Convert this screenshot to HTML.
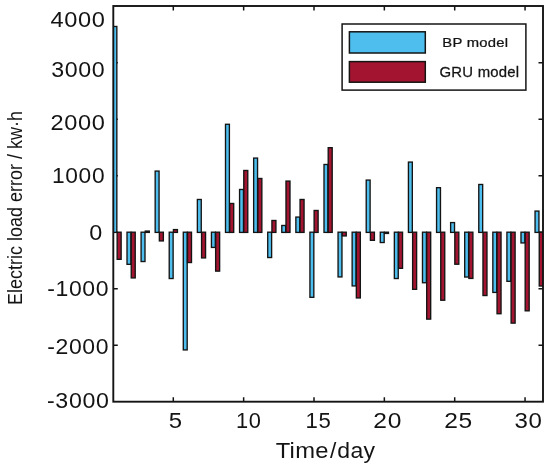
<!DOCTYPE html>
<html><head><meta charset="utf-8"><title>Electric load error</title>
<style>
html,body{margin:0;padding:0;background:#fff;}
svg{display:block;}
text{font-family:"Liberation Sans",Arial,sans-serif;fill:#141414;}
</style></head><body>
<svg width="550" height="466" viewBox="0 0 550 466">
<rect width="550" height="466" fill="#fff"/>
<defs><clipPath id="ax"><rect x="113.3" y="6.0" width="429.7" height="395.7"/></clipPath></defs>
<path d="M173.30 401.7v-4.5M173.30 6.0v4.5 M243.65 401.7v-4.5M243.65 6.0v4.5 M314.00 401.7v-4.5M314.00 6.0v4.5 M384.35 401.7v-4.5M384.35 6.0v4.5 M454.70 401.7v-4.5M454.70 6.0v4.5 M525.05 401.7v-4.5M525.05 6.0v4.5 M113.3 345.30h4.5M543.0 345.30h-4.5 M113.3 288.80h4.5M543.0 288.80h-4.5 M113.3 232.30h4.5M543.0 232.30h-4.5 M113.3 175.80h4.5M543.0 175.80h-4.5 M113.3 119.30h4.5M543.0 119.30h-4.5 M113.3 62.80h4.5M543.0 62.80h-4.5" stroke="#141414" stroke-width="1.5" fill="none"/>
<g clip-path="url(#ax)" stroke="#141414" stroke-width="1.35">
<g fill="#4DBEEE">
<rect x="112.94" y="26.47" width="3.90" height="205.93"/>
<rect x="127.01" y="232.20" width="3.90" height="32.12"/>
<rect x="141.09" y="232.20" width="3.90" height="29.33"/>
<rect x="155.16" y="171.08" width="3.90" height="61.32"/>
<rect x="169.22" y="232.20" width="3.90" height="46.33"/>
<rect x="183.29" y="232.20" width="3.90" height="117.72"/>
<rect x="197.36" y="199.48" width="3.90" height="32.92"/>
<rect x="211.44" y="232.20" width="3.90" height="15.22"/>
<rect x="225.50" y="124.28" width="3.90" height="108.12"/>
<rect x="239.57" y="189.48" width="3.90" height="42.92"/>
<rect x="253.65" y="158.08" width="3.90" height="74.32"/>
<rect x="267.72" y="232.20" width="3.90" height="25.33"/>
<rect x="281.79" y="225.48" width="3.90" height="6.92"/>
<rect x="295.86" y="217.08" width="3.90" height="15.32"/>
<rect x="309.93" y="232.20" width="3.90" height="65.12"/>
<rect x="324.00" y="164.48" width="3.90" height="67.92"/>
<rect x="338.06" y="232.20" width="3.90" height="44.72"/>
<rect x="352.14" y="232.20" width="3.90" height="53.72"/>
<rect x="366.21" y="180.08" width="3.90" height="52.32"/>
<rect x="380.28" y="232.20" width="3.90" height="10.32"/>
<rect x="394.35" y="232.20" width="3.90" height="46.33"/>
<rect x="408.42" y="162.08" width="3.90" height="70.32"/>
<rect x="422.49" y="232.20" width="3.90" height="50.53"/>
<rect x="436.56" y="187.68" width="3.90" height="44.72"/>
<rect x="450.62" y="222.58" width="3.90" height="9.82"/>
<rect x="464.70" y="232.20" width="3.90" height="44.83"/>
<rect x="478.77" y="184.48" width="3.90" height="47.92"/>
<rect x="492.84" y="232.20" width="3.90" height="60.22"/>
<rect x="506.91" y="232.20" width="3.90" height="49.12"/>
<rect x="520.98" y="232.20" width="3.90" height="10.72"/>
<rect x="535.04" y="211.08" width="3.90" height="21.32"/>
</g>
<g fill="#A2142F">
<rect x="117.14" y="232.20" width="4.00" height="27.12"/>
<rect x="131.22" y="232.20" width="4.00" height="45.72"/>
<rect x="145.29" y="231.08" width="4.00" height="1.32"/>
<rect x="159.36" y="232.20" width="4.00" height="8.72"/>
<rect x="173.43" y="229.58" width="4.00" height="2.82"/>
<rect x="187.50" y="232.20" width="4.00" height="30.33"/>
<rect x="201.56" y="232.20" width="4.00" height="25.72"/>
<rect x="215.64" y="232.20" width="4.00" height="38.92"/>
<rect x="229.71" y="203.48" width="4.00" height="28.92"/>
<rect x="243.78" y="170.48" width="4.00" height="61.92"/>
<rect x="257.85" y="178.48" width="4.00" height="53.92"/>
<rect x="271.92" y="220.48" width="4.00" height="11.92"/>
<rect x="285.99" y="181.08" width="4.00" height="51.32"/>
<rect x="300.06" y="199.48" width="4.00" height="32.92"/>
<rect x="314.12" y="210.48" width="4.00" height="21.92"/>
<rect x="328.20" y="147.68" width="4.00" height="84.72"/>
<rect x="342.26" y="232.20" width="4.00" height="3.72"/>
<rect x="356.34" y="232.20" width="4.00" height="65.72"/>
<rect x="370.41" y="232.20" width="4.00" height="8.12"/>
<rect x="384.48" y="232.20" width="4.00" height="1.22"/>
<rect x="398.55" y="232.20" width="4.00" height="36.12"/>
<rect x="412.62" y="232.20" width="4.00" height="57.12"/>
<rect x="426.69" y="232.20" width="4.00" height="86.92"/>
<rect x="440.75" y="232.20" width="4.00" height="68.03"/>
<rect x="454.82" y="232.20" width="4.00" height="32.03"/>
<rect x="468.90" y="232.20" width="4.00" height="46.22"/>
<rect x="482.97" y="232.20" width="4.00" height="63.33"/>
<rect x="497.04" y="232.20" width="4.00" height="81.53"/>
<rect x="511.11" y="232.20" width="4.00" height="90.92"/>
<rect x="525.17" y="232.20" width="4.00" height="78.62"/>
<rect x="539.24" y="232.20" width="4.00" height="53.83"/>
</g>
</g>
<rect x="113.3" y="6.0" width="429.7" height="395.7" fill="none" stroke="#141414" stroke-width="1.9"/>
<rect x="342.1" y="24.0" width="183.8" height="66.1" fill="#fff" stroke="#141414" stroke-width="1.5"/>
<rect x="349.4" y="31.8" width="75.9" height="21.2" fill="#4DBEEE" stroke="#141414" stroke-width="1.5"/>
<rect x="349.4" y="61.6" width="75.9" height="20.6" fill="#A2142F" stroke="#141414" stroke-width="1.5"/>
<text transform="translate(50.43 27.07) scale(1.0924 1)" font-size="21.6" letter-spacing="0.6">4000</text>
<text transform="translate(51.17 76.57) scale(1.0753 1)" font-size="21.6" letter-spacing="0.6">3000</text>
<text transform="translate(50.40 130.17) scale(1.0911 1)" font-size="21.6" letter-spacing="0.6">2000</text>
<text transform="translate(51.98 182.67) scale(1.0550 1)" font-size="21.6" letter-spacing="0.6">1000</text>
<text transform="translate(89.27 240.17) scale(1.0833 1)" font-size="21.6" letter-spacing="0.6">0</text>
<text transform="translate(47.18 296.07) scale(1.0650 1)" font-size="21.6" letter-spacing="0.6">-1000</text>
<text transform="translate(47.18 353.97) scale(1.0650 1)" font-size="21.6" letter-spacing="0.6">-2000</text>
<text transform="translate(46.98 407.97) scale(1.0739 1)" font-size="21.6" letter-spacing="0.6">-3000</text>
<text transform="translate(168.85 427.50) scale(1.1296 1)" font-size="21.2" letter-spacing="0.6">5</text>
<text transform="translate(235.94 427.50) scale(1.0301 1)" font-size="21.2" letter-spacing="0.6">10</text>
<text transform="translate(305.61 427.50) scale(1.0456 1)" font-size="21.2" letter-spacing="0.6">15</text>
<text transform="translate(373.35 427.50) scale(1.1607 1)" font-size="21.2" letter-spacing="0.6">20</text>
<text transform="translate(444.15 427.50) scale(1.1600 1)" font-size="21.2" letter-spacing="0.6">25</text>
<text transform="translate(514.45 427.50) scale(1.1353 1)" font-size="21.2" letter-spacing="0.6">30</text>
<text transform="translate(275.63 457.70) scale(1.1006 1)" font-size="21.6" letter-spacing="0.3">Time</text>
<text transform="translate(330.00 457.70) scale(1.0535 1)" font-size="21.6">/</text>
<text transform="translate(337.28 457.70) scale(1.0647 1)" font-size="21.6" letter-spacing="0.3">day</text>
<text transform="translate(442.34 47.10) scale(1.1416 1)" font-size="13.0" letter-spacing="0.2" stroke="#141414" stroke-width="0.25">BP model</text>
<text transform="translate(439.50 77.00) scale(1.0738 1)" font-size="13.9" letter-spacing="0.2" stroke="#141414" stroke-width="0.25">GRU model</text>
<text transform="translate(22.2 305.01) rotate(-90) scale(0.8583 1)" font-size="21">Electric load error / kw·h</text>
</svg>
</body></html>
